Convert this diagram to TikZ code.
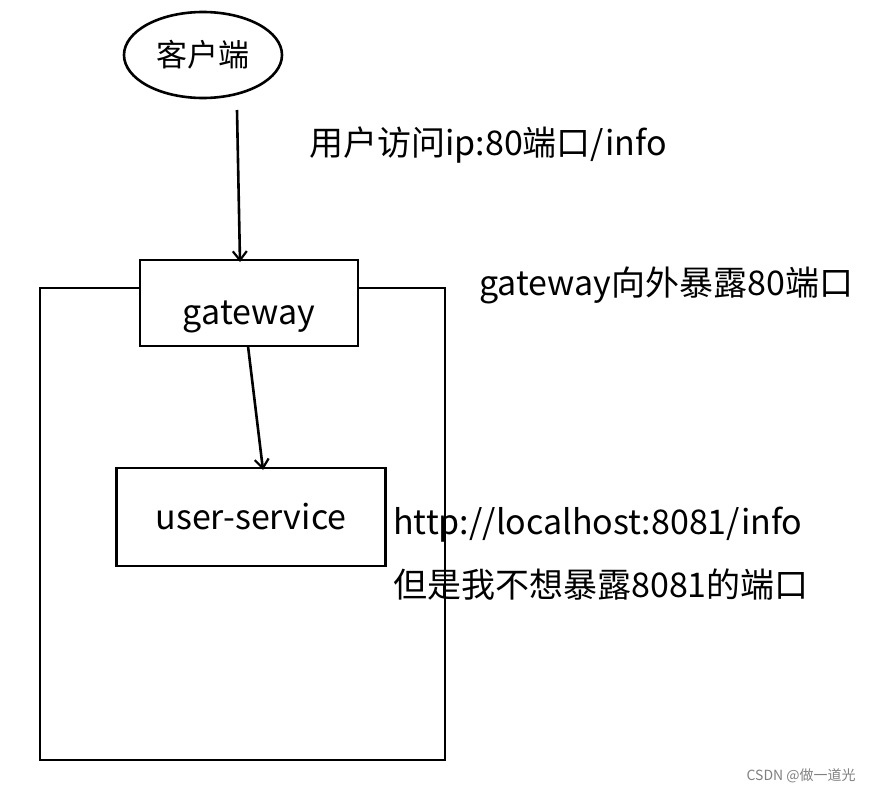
\documentclass[tikz,border=0pt]{standalone}
\usepackage{fontspec}
\setmainfont{Noto Sans CJK SC}
\usetikzlibrary{shapes.geometric,arrows.meta}
\begin{document}
\begin{tikzpicture}[x=1pt,y=-1pt,line width=2.6pt,
  txt/.style={font=\fontsize{34}{40}\selectfont,inner sep=0pt},
  arr/.style={-{Straight Barb[length=9pt,width=14pt,line width=2.2pt]}}]
\useasboundingbox (0,0) rectangle (871,795);
\node[draw,ellipse,minimum width=158,minimum height=86,inner sep=0pt,font=\fontsize{31}{36}\selectfont] (c) at (203,55) {客户端};
\draw (40,288) rectangle (445,760);
\node[draw,fill=white,minimum width=218,minimum height=86,label={[txt,yshift=-14pt]center:gateway}] (g) at (249,303) {};
\node[draw,minimum width=269,minimum height=98,txt] (u) at (251,517) {user-service};
\coordinate (a1) at (237,110);
\coordinate (a2) at (240,262);
\draw[arr] (a1) -- (a2);
\coordinate (b1) at (248,346);
\coordinate (b2) at (263,470);
\draw[arr] (b1) -- (b2);
\node[txt,anchor=west] (l1) at (308,145) {用户访问ip:80端口/info};
\node[txt,anchor=west] (l2) at (478,285) {gateway向外暴露80端口};
\node[txt,anchor=west] (l3) at (392,525) {http://localhost:8081/info};
\node[txt,anchor=west] (l4) at (392,585) {但是我不想暴露8081的端口};
\node[inner sep=0pt,anchor=east,text=gray,font=\fontsize{14}{16}\selectfont] (w) at (857,776) {CSDN @做一道光};
\end{tikzpicture}
\end{document}
